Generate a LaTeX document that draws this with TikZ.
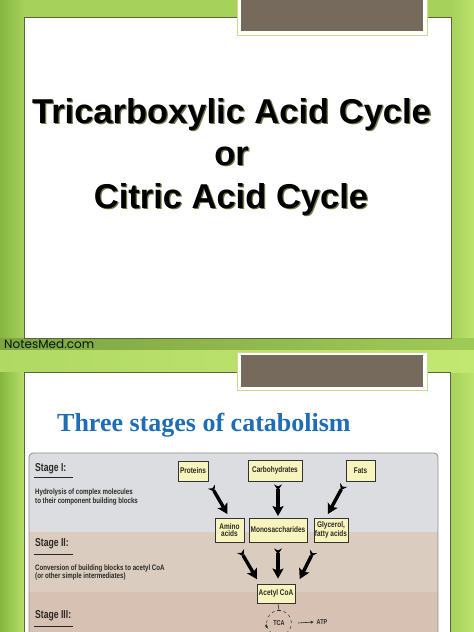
\documentclass[tikz,border=0pt]{standalone}
\usepackage{fontspec}
\setmainfont{Liberation Sans}
\newfontfamily\serifb{Liberation Serif}
\newfontfamily\narrowf[FakeStretch=0.78]{Liberation Sans Bold}
\newfontfamily\narrowl[FakeStretch=0.75]{Liberation Sans Bold}
\newfontfamily\logofont{Poppins}
\usetikzlibrary{arrows.meta}
\definecolor{bggreen}{HTML}{A6D15A}
\definecolor{dkgreen}{HTML}{86B640}
\definecolor{ltgreen}{HTML}{C2E872}
\definecolor{bandgreen}{HTML}{7EA542}
\definecolor{boxline}{HTML}{5A6440}
\definecolor{tabgray}{HTML}{766A5C}
\definecolor{tabrim}{HTML}{C9DD92}
\definecolor{titleblue}{HTML}{1F6DB6}
\definecolor{shadowgr}{HTML}{6E7A4A}
\definecolor{stageone}{HTML}{DCDDE0}
\definecolor{stagetwo}{HTML}{DBCCC0}
\definecolor{stagethree}{HTML}{D6C1B3}
\definecolor{ybox}{HTML}{F8F4BE}
\definecolor{dtext}{HTML}{2A2A22}
\tikzset{
  ylbox/.style={draw=black!80, line width=0.9pt, fill=ybox, inner sep=0.5pt, text=dtext,
    font=\narrowf\fontsize{8.3}{7.2}\selectfont, align=center},
  bigarrow/.style={line width=3.4pt, {Stealth[reversed,length=6pt,width=8pt]}-{Stealth[length=10pt,width=11pt,inset=2pt]}},
  stagelbl/.style={anchor=west, inner sep=0pt, text=dtext, font=\narrowl\fontsize{11.5}{11.5}\selectfont},
  stagetxt/.style={anchor=west, inner sep=0pt, align=left, text=dtext, font=\narrowf\fontsize{7.9}{8.8}\selectfont},
  uline/.style={line width=0.9pt, black!85},
  bigtitle/.style={anchor=base, inner sep=0pt, font=\bfseries\fontsize{34.5}{34.5}\selectfont}
}
\begin{document}
\begin{tikzpicture}[x=1pt,y=-1pt]
\useasboundingbox (0,0) rectangle (474,632);
% ---------- background ----------
\fill[bggreen] (0,0) rectangle (474,632);
\shade[left color=dkgreen, right color=bggreen] (0,0) rectangle (24,350);
\shade[left color=bggreen, right color=ltgreen!80!bggreen] (451,0) rectangle (474,632);
\shade[left color=bandgreen, right color=bggreen!85!bandgreen] (0,338) rectangle (474,350);
\shade[left color=ltgreen!70!dkgreen, right color=ltgreen] (0,350) rectangle (474,372);
\shade[left color=dkgreen, right color=ltgreen!60!bggreen] (0,372) rectangle (24,632);
% ---------- slide 1 ----------
\fill[white, draw=boxline, line width=0.8pt] (24,17) rectangle (451,338);
\fill[white, draw=tabrim, line width=0.8pt] (237,-2) rectangle (427,35);
\fill[tabgray] (241,-2) rectangle (423,31);
\foreach \dx/\dy/\col in {1.3/1.3/shadowgr, 0/0/black}{
  \node[bigtitle, text=\col] at (231.5+\dx,123+\dy) {Tricarboxylic Acid Cycle};
  \node[bigtitle, text=\col] at (231.5+\dx,165+\dy) {or};
  \node[bigtitle, text=\col] at (231+\dx,208+\dy) {Citric Acid Cycle};
}
\node[anchor=base west, inner sep=0pt, text=black!70!green!30!black, font=\logofont\fontsize{12}{12}\selectfont] (logo) at (4,348.5) {NotesMed.com};
% ---------- slide 2 ----------
\fill[white, draw=boxline, line width=0.8pt] (24,372) rectangle (450,640);
\fill[white, draw=tabrim, line width=0.8pt] (237,352) rectangle (427,390);
\fill[tabgray] (241,355) rectangle (423,387);
\node[anchor=base west, inner sep=0pt, text=titleblue, font=\serifb\bfseries\fontsize{26}{26}\selectfont] (ttl) at (57,431) {Three stages of catabolism};
% diagram panel
\begin{scope}
  \clip[rounded corners=4pt] (29,453) rectangle (438,645);
  \fill[stageone] (29,453) rectangle (438,532);
  \fill[stagetwo] (29,532) rectangle (438,592);
  \fill[stagethree] (29,592) rectangle (438,645);
\end{scope}
\draw[black!45, line width=0.8pt, rounded corners=4pt] (29,645) -- (29,453) -- (438,453) -- (438,645);
% stage texts
\node[stagelbl] (s1) at (35,469) {Stage I:};
\draw[uline] (34,477) -- (73,477);
\node[stagetxt] (t1) at (35,497) {Hydrolysis of complex molecules\\to their component building blocks};
\node[stagelbl] (s2) at (35,544) {Stage II:};
\draw[uline] (34,554) -- (73,554);
\node[stagetxt] (t2) at (35,572.5) {Conversion of building blocks to acetyl CoA\\(or other simple intermediates)};
\node[stagelbl] (s3) at (35,616) {Stage III:};
\draw[uline] (34,626.5) -- (73,626.5);
% boxes
\node[ylbox, minimum width=30pt, minimum height=20pt] (prot) at (193,471) {Proteins};
\node[ylbox, minimum width=54pt, minimum height=21pt] (carb) at (275,470.5) {Carbohydrates};
\node[ylbox, minimum width=29pt, minimum height=21pt] (fats) at (360.5,470.5) {Fats};
\node[ylbox, minimum width=29pt, minimum height=24pt] (amino) at (229.5,530) {Amino\\acids};
\node[ylbox, minimum width=58pt, minimum height=24pt] (mono) at (278,530) {Monosaccharides};
\node[ylbox, minimum width=34pt, minimum height=24pt] (glyc) at (331,530) {Glycerol,\\fatty acids};
\node[ylbox, minimum width=38pt, minimum height=19pt] (acet) at (276,593.5) {Acetyl CoA};
% arrows
\draw[bigarrow, shorten <=6pt, shorten >=4pt] (prot.south east) -- (amino.north);
\draw[bigarrow, shorten <=3pt, shorten >=1.5pt] (carb.south -| mono.north) -- (mono.north);
\draw[bigarrow, shorten <=4pt, shorten >=4pt] (fats.south west) -- ([xshift=-5pt]glyc.north);
\draw[bigarrow, shorten <=10pt, shorten >=5pt] ([xshift=6pt]amino.south) -- ([xshift=3pt]acet.north west);
\draw[bigarrow, shorten <=6pt, shorten >=5pt] (mono.south) -- (mono.south |- acet.north);
\draw[bigarrow, shorten <=10pt, shorten >=5pt] ([xshift=-13pt]glyc.south) -- ([xshift=2pt]acet.north east);
% TCA cycle
\node[draw=black!70, dashed, line width=0.6pt, circle, minimum size=25pt, inner sep=0pt, text=dtext,
      font=\narrowf\fontsize{7}{7}\selectfont, text depth=-6pt] (tca) at (279,623) {TCA};
\draw[black!80, line width=0.6pt] ([xshift=2pt]acet.south) -- (tca.north);
\draw[black!80, line width=0.5pt] ([xshift=-2pt]tca.north) -- ([xshift=2pt]tca.north);
\draw[black!80, line width=0.6pt, -{Stealth[length=3pt,width=3pt]}] ([yshift=-5pt]tca.west) -- ([yshift=-1pt]tca.west);
\node[inner sep=0pt, text=dtext, font=\narrowf\fontsize{7}{7}\selectfont] (atp) at (322,622) {ATP};
\draw[black!85, line width=0.6pt, -{Stealth[length=3pt,width=3pt]}] ([xshift=6pt]tca.east) -- ([xshift=-3pt]atp.west);
\end{tikzpicture}
\end{document}
